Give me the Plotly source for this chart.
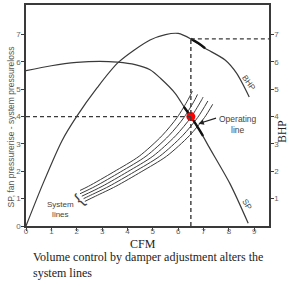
import plotly.graph_objects as go

# ---------------- data ----------------
X_MAX = 9.58
Y_MAX = 8.08

x_ticks = [0, 1, 2, 3, 4, 5, 6, 7, 8, 9]
y_ticks_left = [0, 1, 2, 3, 4, 5, 6, 7]
y_ticks_right = [1, 2, 3, 4, 5, 6, 7]

# fan pressure (SP) curve
sp_x = [0, 1, 2, 2.9, 3.6, 4.3, 4.89, 5.3, 5.88, 6.27, 6.5, 6.86, 7.19, 8.04, 8.76]
sp_y = [5.68, 5.86, 5.98, 6.02, 5.99, 5.9, 5.71, 5.4, 4.85, 4.3, 4.0, 3.48, 2.93, 1.55, 0.1]

# brake horsepower curve
bhp_x = [0, 0.67, 1.42, 1.98, 2.8, 3.65, 4.89, 5.5, 6.0, 6.5, 7.06, 7.85, 8.3, 8.8]
bhp_y = [0, 1.55, 3.12, 3.98, 5.05, 5.99, 6.8, 7.0, 7.04, 6.84, 6.5, 6.07, 5.59, 4.72]

# five system lines
sys1_x = [2.13, 2.46, 3.46, 4.46, 5.36, 5.96, 6.39, 6.56]
sys1_y = [1.30, 1.45, 1.98, 2.55, 3.30, 3.97, 4.62, 4.93]
sys2_x = [2.13, 2.73, 3.73, 4.73, 5.63, 6.23, 6.66, 6.76]
sys2_y = [1.18, 1.45, 1.98, 2.55, 3.30, 3.97, 4.62, 4.81]
sys3_x = [2.20, 3.00, 4.00, 5.00, 5.90, 6.50, 6.93, 6.98]
sys3_y = [1.09, 1.45, 1.98, 2.55, 3.30, 3.97, 4.62, 4.71]
sys4_x = [2.27, 2.47, 3.27, 4.27, 5.27, 6.17, 6.77, 7.17]
sys4_y = [1.00, 1.09, 1.45, 1.98, 2.55, 3.30, 3.97, 4.57]
sys5_x = [2.32, 2.74, 3.54, 4.54, 5.54, 6.44, 7.04, 7.36]
sys5_y = [0.90, 1.09, 1.45, 1.98, 2.55, 3.30, 3.97, 4.45]
system_lines = [(sys1_x, sys1_y), (sys2_x, sys2_y), (sys3_x, sys3_y),
                (sys4_x, sys4_y), (sys5_x, sys5_y)]

# operating point
op_x = 6.5
op_sp = 4.0
op_bhp = 6.84

# highlighted segments
sp_op_x = [6.22, 6.5, 6.86, 6.98]
sp_op_y = [4.36, 4.0, 3.48, 3.29]
bhp_op_x = [6.5, 6.8, 7.06]
bhp_op_y = [6.84, 6.68, 6.5]

caption = "Volume control by damper adjustment alters the<br>system lines"

# ---------------- figure ----------------
LINE = "#3a3a3a"
TICK = "#666666"
SANS = "Liberation Sans, Arial, sans-serif"
SERIF = "Liberation Serif, Times New Roman, serif"

fig = go.Figure()

fig.add_trace(go.Scatter(x=sp_x, y=sp_y, mode="lines",
                         line=dict(color=LINE, width=1.2, shape="spline", smoothing=0.8),
                         hoverinfo="skip", showlegend=False))
fig.add_trace(go.Scatter(x=bhp_x, y=bhp_y, mode="lines",
                         line=dict(color=LINE, width=1.2, shape="spline", smoothing=0.8),
                         hoverinfo="skip", showlegend=False))
for sx, sy in system_lines:
    fig.add_trace(go.Scatter(x=sx, y=sy, mode="lines",
                             line=dict(color=LINE, width=1.0, shape="spline", smoothing=0.8),
                             hoverinfo="skip", showlegend=False))
fig.add_trace(go.Scatter(x=sp_op_x, y=sp_op_y, mode="lines",
                         line=dict(color="#111111", width=2.4, shape="spline"),
                         hoverinfo="skip", showlegend=False))
fig.add_trace(go.Scatter(x=bhp_op_x, y=bhp_op_y, mode="lines",
                         line=dict(color="#111111", width=2.4, shape="spline"),
                         hoverinfo="skip", showlegend=False))

# dashed guides
dash = dict(color=LINE, width=1.4, dash="4px,3px")
fig.add_shape(type="line", x0=0, y0=op_sp, x1=op_x, y1=op_sp, line=dash)
fig.add_shape(type="line", x0=op_x, y0=0, x1=op_x, y1=op_bhp, line=dash)
fig.add_shape(type="line", x0=op_x, y0=op_bhp, x1=X_MAX, y1=op_bhp, line=dash)

fig.add_trace(go.Scatter(x=[op_x], y=[op_sp], mode="markers",
                         marker=dict(color="#ff0000", size=9),
                         hoverinfo="skip", showlegend=False))

# secondary axis for BHP ticks
fig.add_trace(go.Scatter(x=[None], y=[None], yaxis="y2", showlegend=False))

# annotations
fig.add_annotation(x=8.76, y=5.23, text="BHP", showarrow=False, textangle=55,
                   font=dict(family=SANS, size=8, color="#444"))
fig.add_annotation(x=8.72, y=0.8, text="SP", showarrow=False, textangle=60,
                   font=dict(family=SANS, size=8, color="#444"))
fig.add_annotation(x=1.35, y=0.62, text="System<br>lines", showarrow=False,
                   font=dict(family=SANS, size=8, color="#444444"))
fig.add_annotation(x=2.1, y=0.98, text="{", showarrow=False, textangle=-45,
                   font=dict(family=SANS, size=17, color="#444"))
fig.add_annotation(x=8.37, y=3.72, text="Operating<br>line", showarrow=False,
                   font=dict(family=SANS, size=8.5, color="#444"))
fig.add_annotation(x=6.8, y=3.74, ax=7.55, ay=3.96, axref="x", ayref="y",
                   text="", showarrow=True, arrowhead=2, arrowsize=0.9,
                   arrowwidth=1.2, arrowcolor="#222")

fig.add_annotation(xref="paper", yref="paper", x=-0.062, y=0.45,
                   xanchor="center", yanchor="middle",
                   text="SP, fan pressurerise - system pressureloss",
                   showarrow=False, textangle=-90,
                   font=dict(family=SANS, size=8.5, color="#555"))
fig.add_annotation(xref="paper", yref="paper", x=1.053, y=0.426, text="BHP",
                   xanchor="center", yanchor="middle",
                   showarrow=False, textangle=-90,
                   font=dict(family=SERIF, size=11.5, color="#222"))
fig.add_annotation(xref="paper", yref="paper", x=0.48, y=-0.08, text="CFM",
                   xanchor="center", yanchor="middle",
                   showarrow=False, font=dict(family=SERIF, size=12, color="#222"))
fig.add_annotation(xref="paper", yref="paper", x=0.02, y=-0.178, text=caption,
                   showarrow=False, align="left", xanchor="left", yanchor="middle",
                   font=dict(family=SERIF, size=12, color="#222"))

axis_common = dict(showgrid=False, zeroline=False, showline=True, linecolor=LINE,
                   linewidth=1.5, ticks="outside", ticklen=3, tickwidth=1,
                   tickcolor=LINE, tickfont=dict(family=SANS, size=8, color=TICK))

fig.update_layout(
    width=300, height=286,
    margin=dict(l=26, r=31, t=3, b=60),
    paper_bgcolor="white", plot_bgcolor="white",
    xaxis=dict(range=[0, X_MAX], tickvals=x_ticks, mirror=True,
               ticklabelstandoff=-6, **axis_common),
    yaxis=dict(range=[0, Y_MAX], tickvals=y_ticks_left, mirror=True,
               ticklabelstandoff=-1, **axis_common),
    yaxis2=dict(range=[0, Y_MAX], tickvals=y_ticks_right, overlaying="y",
                side="right", ticklabelstandoff=-1, **axis_common),
    showlegend=False,
)

fig.write_html("out.html")
